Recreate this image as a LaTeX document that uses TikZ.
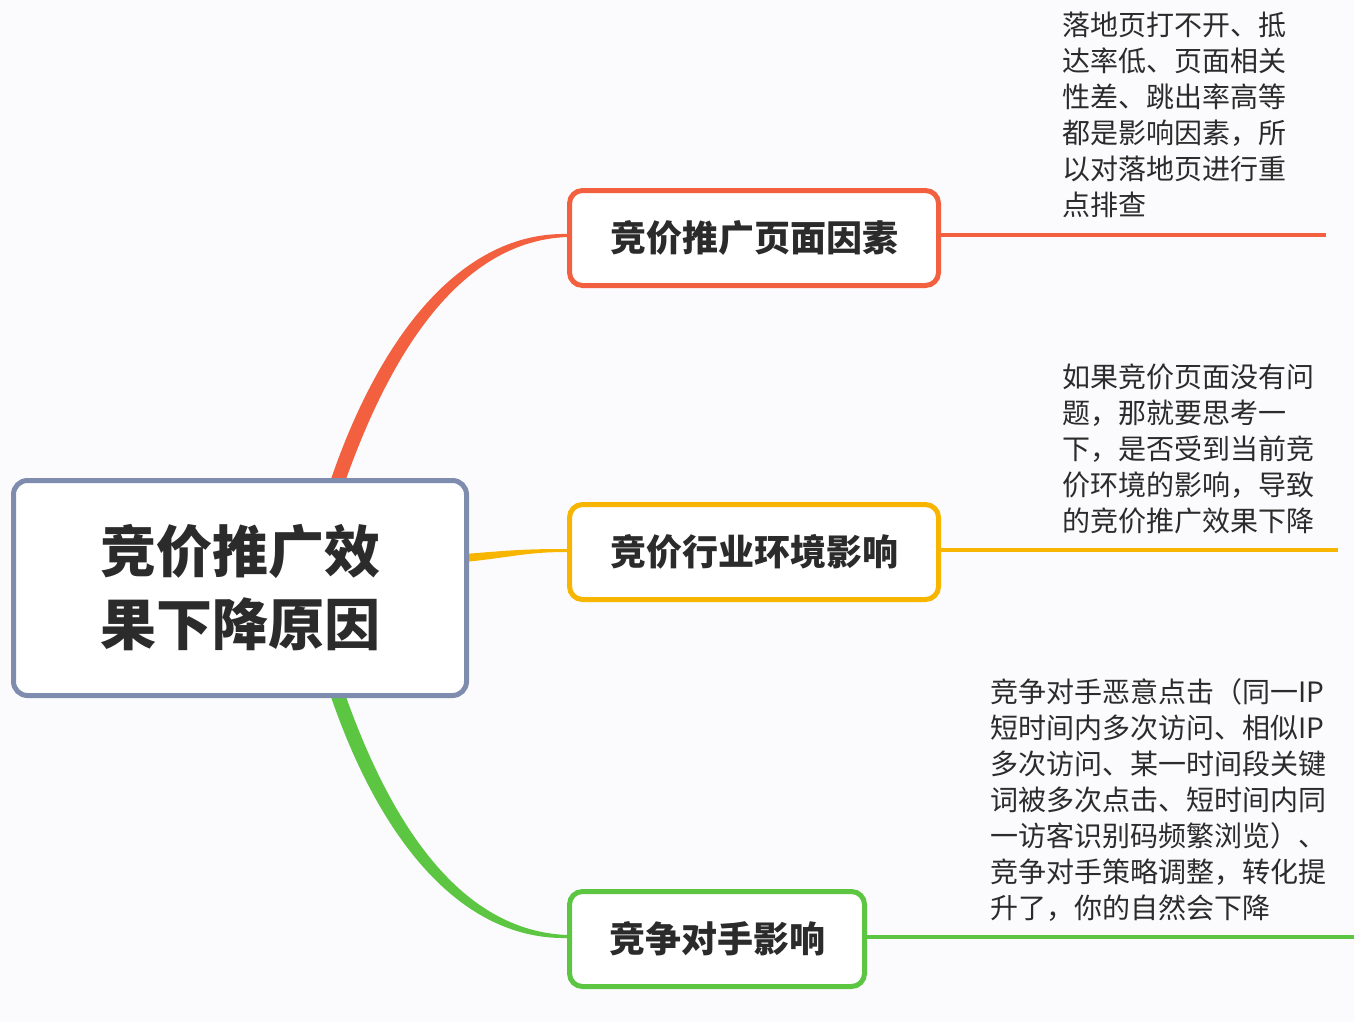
\documentclass[tikz,border=0pt]{standalone}
\usepackage{fontspec}
\newfontfamily\cjk{Noto Sans CJK SC}
\usetikzlibrary{calc}
\definecolor{cred}{HTML}{F2603F}
\definecolor{cyel}{HTML}{F7B500}
\definecolor{cgrn}{HTML}{5CC542}
\definecolor{cblue}{HTML}{7E8DAD}
\definecolor{ctext}{HTML}{2B2B2B}
\definecolor{cbg}{HTML}{FBFBFD}
\pgfdeclarelayer{bg}\pgfdeclarelayer{conn}\pgfsetlayers{bg,conn,main}
\begin{document}
\begin{tikzpicture}[x=1pt,y=-1pt,
  rootbox/.style={draw=cblue, line width=5pt, rounded corners=14pt, fill=white, minimum width=453pt, minimum height=215pt, inner sep=0pt, align=center, text=ctext, font=\cjk\bfseries\fontsize{56}{73}\selectfont},
  topicbox/.style={line width=5pt, rounded corners=13pt, fill=white, minimum height=95pt, inner sep=0pt, text=ctext, font=\cjk\bfseries\fontsize{36}{40}\selectfont},
  desc/.style={anchor=north west, inner sep=0pt, align=left, text=ctext, font=\cjk\fontsize{28}{36}\selectfont},
  bar/.style={line width=4.5pt}]
\useasboundingbox (0,0) rectangle (1354,1022);
\begin{pgfonlayer}{bg}
\fill[cbg] (0,0) rectangle (1354,1022);
\end{pgfonlayer}

\node[rootbox] (c) at (240,588) {竞价推广效\\果下降原因};
\node[topicbox, draw=cred, minimum width=369pt] (b1) at (754,238) {竞价推广页面因素};
\node[topicbox, draw=cyel, minimum width=369pt] (b2) at (754,552) {竞价行业环境影响};
\node[topicbox, draw=cgrn, minimum width=295pt] (b3) at (717,939) {竞争对手影响};

\node[desc] (d1) at (1062,12) {落地页打不开、抵\\达率低、页面相关\\性差、跳出率高等\\都是影响因素，所\\以对落地页进行重\\点排查};
\node[desc] (d2) at (1062,364) {如果竞价页面没有问\\题，那就要思考一\\下，是否受到当前竞\\价环境的影响，导致\\的竞价推广效果下降};
\node[desc] (d3) at (990,678) {竞争对手恶意点击（同一IP\\短时间内多次访问、相似IP\\多次访问、某一时间段关键\\词被多次点击、短时间内同\\一访客识别码频繁浏览）、\\竞争对手策略调整，转化提\\升了，你的自然会下降};

\coordinate (e1) at (1326,235);
\coordinate (e2) at (1338,550);
\coordinate (e3) at (1354,937);

\begin{pgfonlayer}{conn}
\fill[cred] ($(c.north)+(90,4)$) .. controls +(52,-153) and +(-102,-2) .. ($(b1.west)+(0,-4)$)
  -- ($(b1.west)+(0,-1)$) .. controls +(-98,4) and +(52,-147) .. ($(c.north)+(105,4)$) -- cycle;
\fill[cyel] ($(c.east)+(-4,-34)$) .. controls +(48,-4) and +(-40,0) .. ($(b2.west)+(0,-3)$)
  -- ($(b2.west)+(0,0)$) .. controls +(-40,0) and +(48,-5) .. ($(c.east)+(-4,-26)$) -- cycle;
\fill[cgrn] ($(c.south)+(90,-4)$) .. controls +(52,153) and +(-102,2) .. ($(b3.west)+(0,-1)$)
  -- ($(b3.west)+(0,-4)$) .. controls +(-98,-4) and +(52,147) .. ($(c.south)+(105,-4)$) -- cycle;
\draw[bar,cred] (b1.east |- e1) -- (e1);
\draw[bar,cyel] (b2.east |- e2) -- (e2);
\draw[bar,cgrn] (b3.east |- e3) -- (e3);
\end{pgfonlayer}
\end{tikzpicture}
\end{document}
